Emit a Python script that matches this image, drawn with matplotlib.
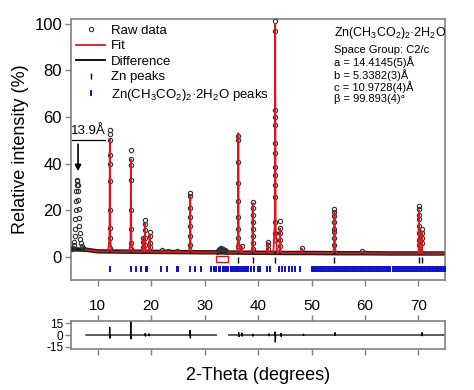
import numpy as np
import matplotlib.pyplot as plt
from matplotlib.lines import Line2D
from matplotlib.patches import Rectangle

plt.rcParams['font.family'] = ['Liberation Sans', 'DejaVu Sans']
plt.rcParams['mathtext.fontset'] = 'custom'
plt.rcParams['mathtext.rm'] = 'Liberation Sans'
plt.rcParams['axes.unicode_minus'] = False

# background level of the pattern (2-theta in deg, intensity in %)
bg_x = [5.1, 7.8, 10, 15, 20, 25, 30, 32.2, 34.5, 40, 45, 50, 55, 60, 65, 70, 75]
bg_y = [3.2, 3.0, 2.3, 2.2, 2.1, 2.0, 1.9, 1.9, 1.8, 1.7, 1.6, 1.6, 1.5, 1.5, 1.4, 1.4, 1.4]

# low angle 13.9 A reflection, raw points only (not fitted)
low_x = [5.15, 5.3, 5.45, 5.55, 5.65, 5.72, 5.79, 5.86, 5.92, 5.98, 6.04, 6.1, 6.16,
         6.22, 6.28, 6.34, 6.4, 6.47, 6.55, 6.64, 6.74, 6.85, 6.98, 7.15, 7.4]
low_y = [3.2, 3.8, 5.0, 6.5, 9.0, 12, 16, 20, 24, 28, 31, 33, 32.5,
         31, 28, 24.5, 20.5, 16.5, 13, 10, 7.5, 5.8, 4.6, 3.8, 3.2]

# excluded bump near 33 deg
bump_x = [32.4, 32.6, 32.8, 33.0, 33.2, 33.4, 33.6, 33.8, 34.0, 34.2]
bump_y = [2.2, 2.8, 3.3, 3.6, 3.5, 3.2, 3.0, 2.8, 2.5, 2.1]

# fitted reflections: position, top of fit, half width at base
pk_pos = [12.25, 16.2, 18.47, 18.85, 19.7, 22.05, 23.2, 24.9, 27.3, 36.3,
          36.9, 39.0, 41.8, 43.2, 44.1, 48.2, 54.3, 59.4, 70.1, 70.6]
pk_fit = [50.4, 41.8, 8.0, 14.5, 9.5, 2.8, 2.5, 2.6, 26.0, 53.0,
          4.5, 23.0, 6.0, 100.0, 12.0, 3.4, 19.0, 2.3, 20.0, 11.0]
pk_hw = [0.3, 0.3, 0.17, 0.2, 0.25, 0.3, 0.3, 0.3, 0.3, 0.28,
         0.2, 0.3, 0.3, 0.35, 0.3, 0.3, 0.35, 0.8, 0.25, 0.22]
# raw data points seen on each reflection
pk_raw = [
    [54.4, 52.7, 50.2, 43.8, 39.7, 32.7, 20.0, 12.2, 7.9, 3.6],
    [45.8, 41.8, 39.5, 33.0, 20.0, 12.0, 6.0, 3.5],
    [8.0, 6.5, 4.0],
    [15.8, 14.0, 11.5, 8.0, 5.0],
    [10.5, 9.0, 6.0, 4.0],
    [2.8],
    [2.4],
    [2.6],
    [27.2, 26.0, 21.0, 17.0, 13.0, 9.0, 5.0],
    [52.0, 50.0, 40.5, 31.8, 24.0, 17.0, 12.0, 8.0, 4.5],
    [4.5],
    [23.6, 21.0, 18.0, 15.0, 12.0, 9.0, 6.0, 3.5],
    [6.4, 5.0, 3.5],
    [101, 97, 63, 60, 56.6, 48.7, 44.4, 38.7, 35.1, 30.8, 25.8, 15, 10, 7],
    [15.5, 12.5, 10.0, 7.0, 4.5],
    [3.6],
    [20.4, 19.0, 17.5, 15.0, 12.0, 10.5, 8.0, 5.0],
    [2.3],
    [21.8, 20.5, 18.0, 16.0, 13.0, 10.0, 7.0, 5.0],
    [11.8, 10.0, 8.0, 6.0],
]

# reflection markers
zn_ticks = [36.3, 39.0, 43.2, 54.3, 70.1, 70.6]
za_ticks = [12.3, 16.3, 17.15, 18.15, 19.05, 19.3, 21.9, 23.0, 24.8, 25.05, 27.25, 28.15,
            29.4, 31.2, 31.7, 32.2, 32.65, 32.85, 33.4, 33.7, 34.0, 34.3, 34.9, 35.2,
            35.5, 35.8, 36.0, 36.3, 36.6, 36.9, 37.3, 37.6, 37.9, 38.2, 38.7, 39.2,
            40.0, 40.4, 41.7, 42.3, 43.9, 44.5, 45.1, 45.75, 46.4, 47.0, 47.8,
            50.0, 50.3, 50.6, 50.9, 51.2, 51.5, 51.8, 52.1, 52.4, 52.7, 53.0, 53.3,
            53.6, 54.0, 54.4, 54.8, 55.1, 55.4, 55.7, 56.0, 56.3, 56.6, 56.9, 57.2,
            57.5, 57.8, 58.1, 58.4, 58.7, 59.0, 59.3, 59.6, 59.9, 60.2, 60.5, 60.8,
            61.1, 61.4, 61.7, 62.0, 62.3, 62.6, 62.9, 63.2, 63.5, 63.8, 64.1, 64.4,
            64.7, 65.2, 65.5, 65.8, 66.1, 66.4, 66.7, 67.0, 67.3, 67.6, 67.9, 68.3,
            68.6, 68.9, 69.2, 69.5, 69.8, 70.1, 70.4, 70.7, 71.0, 71.3, 71.6, 71.9,
            72.2, 72.5, 72.8, 73.1, 73.4, 73.7, 74.0, 74.3, 74.6, 74.9]

# difference spikes: position, max, min
res_pos = [12.25, 16.2, 18.9, 19.6, 27.3, 36.4, 37.0, 39.0, 42.1, 43.2, 44.3, 48.5, 54.4, 70.7]
res_up = [10, 18, 2, 1.5, 6, 3, 2.5, 1, 1.5, 4, 2, 1, 3, 3]
res_dn = [-4, -5, -1.5, -1, -4, -2, -1.5, -1.5, -1, -9, -2, -0.5, -0.5, -1]
fit_ranges = [(7.8, 32.2), (34.5, 75.0)]

RED = '#d7191c'
BLUE = '#1010c8'
FRAME = '#808080'


def fit_segment(lo, hi):
    xs = [x for x in bg_x if lo <= x <= hi]
    ys = [np.interp(x, bg_x, bg_y) for x in xs]
    for p, h, w in zip(pk_pos, pk_fit, pk_hw):
        if lo < p < hi:
            b = np.interp(p, bg_x, bg_y)
            xs += [p - w, p - 0.25 * w, p, p + 0.25 * w, p + w]
            ys += [b, b + 0.12 * (h - b), h, b + 0.12 * (h - b), b]
    order = np.argsort(xs)
    return list(np.array(xs)[order]), list(np.array(ys)[order])


def diff_segment(lo, hi):
    xs, ys = [lo], [0]
    for p, u, d in zip(res_pos, res_up, res_dn):
        if lo < p < hi:
            xs += [p - 0.08, p - 0.02, p + 0.02, p + 0.08]
            ys += [0, u, d, 0]
    xs.append(hi)
    ys.append(0)
    return xs, ys


fig = plt.figure(figsize=(4.74, 3.9), dpi=100)
ax = fig.add_axes([0.150, 0.282, 0.789, 0.669])
axr = fig.add_axes([0.150, 0.105, 0.789, 0.072])

# raw data
raw_x = list(low_x) + list(bump_x)
raw_y = list(low_y) + list(bump_y)
for p, hts in zip(pk_pos, pk_raw):
    raw_x += [p] * len(hts)
    raw_y += hts
ax.plot(bg_x, bg_y, color='#1a1a1a', lw=3.2, zorder=2, solid_capstyle='round')
ax.plot(bump_x, bump_y, color='#1a1a1a', lw=3.0, zorder=2)
ax.plot(raw_x, raw_y, 'o', ms=3.1, mfc='none', mec='#333333', mew=0.8, zorder=3)

# fit
fx, fy = [], []
for lo, hi in fit_ranges:
    sx, sy = fit_segment(lo, hi)
    fx += sx + [np.nan]
    fy += sy + [np.nan]
ax.plot(fx, fy, color=RED, lw=1.3, zorder=4)

# reflection markers
ax.plot(zn_ticks, [-1.6] * len(zn_ticks), '|', color='black', ms=4, mew=1.0, zorder=4)
ax.plot(za_ticks, [-5.1] * len(za_ticks), '|', color=BLUE, ms=4.5, mew=1.4, zorder=4)

ax.add_patch(Rectangle((32.06, -2.3), 2.34, 2.7, fill=False, ec=RED, lw=1.0, zorder=1))

# 13.9 A label and arrow
ax.text(8.3, 51.3, '13.9Å', fontsize=9.5, ha='center', va='bottom')
ax.plot([5.2, 11.4], [50.3, 50.3], color='black', lw=0.9)
ax.annotate('', xy=(6.3, 35.5), xytext=(6.3, 49.5),
            arrowprops=dict(arrowstyle='-|>', color='black', lw=1.2, mutation_scale=9))

ax.set_xlim(5, 75)
ax.set_ylim(-10, 102)
ax.set_xticks([10, 20, 30, 40, 50, 60, 70])
ax.set_yticks([0, 20, 40, 60, 80, 100])
ax.tick_params(axis='x', direction='out', length=4, width=1, color=FRAME, labelsize=11, pad=10)
ax.tick_params(axis='y', direction='out', length=4, width=1, color=FRAME, labelsize=12, pad=2.5)
for s in ax.spines.values():
    s.set_color(FRAME)
    s.set_linewidth(1.2)
ax.set_ylabel('Relative intensity (%)', fontsize=13, labelpad=4)

handles = [
    Line2D([], [], ls='none', marker='o', ms=3.1, mfc='none', mec='#333333', mew=0.8),
    Line2D([], [], color=RED, lw=1.3),
    Line2D([], [], color='black', lw=1.3),
    Line2D([], [], ls='none', marker='|', color='black', ms=4, mew=1.0),
    Line2D([], [], ls='none', marker='|', color=BLUE, ms=4, mew=1.4),
]
labels = ['Raw data', 'Fit', 'Difference', 'Zn peaks',
          r'Zn(CH$_\mathregular{3}$CO$_\mathregular{2}$)$_\mathregular{2}$·2H$_\mathregular{2}$O peaks']
ax.legend(handles, labels, loc='upper left', frameon=False, fontsize=9.5,
          handlelength=2.2, handletextpad=0.45, labelspacing=0.25,
          borderaxespad=0.0, bbox_to_anchor=(0.0, 1.0))

# phase information
ax.text(0.703, 0.946, r'Zn(CH$_\mathregular{3}$CO$_\mathregular{2}$)$_\mathregular{2}$·2H$_\mathregular{2}$O',
        transform=ax.transAxes, fontsize=9, va='center', ha='left')
info = ['Space Group: C2/c', 'a = 14.4145(5)Å', 'b = 5.3382(3)Å',
        'c = 10.9728(4)Å', 'β = 99.893(4)°']
for i, line in enumerate(info):
    ax.text(0.703, 0.881 - i * 0.047, line, transform=ax.transAxes,
            fontsize=8, va='center', ha='left')

# difference panel
dx, dy = [], []
for lo, hi in fit_ranges:
    sx, sy = diff_segment(lo, hi)
    dx += sx + [np.nan]
    dy += sy + [np.nan]
axr.plot(dx, dy, color='black', lw=0.9)
axr.set_xlim(5, 75)
axr.set_ylim(-18, 18)
axr.set_yticks([-15, 0, 15])
axr.set_xticks([10, 20, 30, 40, 50, 60, 70])
axr.tick_params(axis='x', direction='out', length=4, width=1, color=FRAME,
                top=True, labelbottom=False)
axr.tick_params(axis='y', direction='out', length=4, width=1, color=FRAME,
                labelsize=8.5, pad=1.5)
for s in axr.spines.values():
    s.set_color(FRAME)
    s.set_linewidth(1.2)
axr.set_xlabel('2-Theta (degrees)', fontsize=13, labelpad=9)

fig.savefig('out.png', dpi=100)
